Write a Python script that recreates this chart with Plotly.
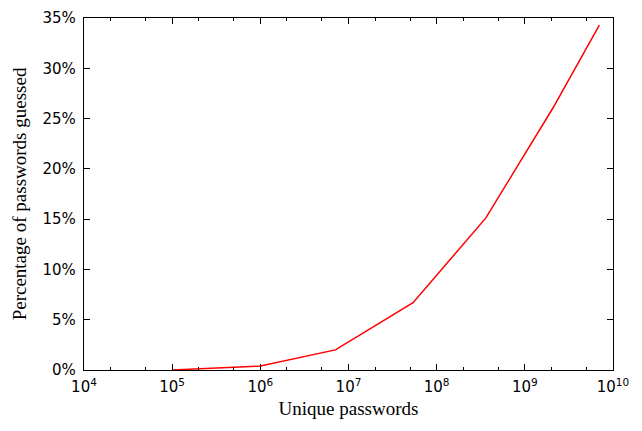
import plotly.graph_objects as go

unique_passwords = [1e5, 1e6, 7.1e6, 5.4e7, 3.6e8, 2.1e9, 7.0e9]
pct_guessed = [0.0, 0.4, 2.0, 6.7, 15.1, 26.1, 34.3]

x_tickvals = [1e4, 1e5, 1e6, 1e7, 1e8, 1e9, 1e10]
x_ticktext = ["10<sup>4</sup>", "10<sup>5</sup>", "10<sup>6</sup>", "10<sup>7</sup>",
              "10<sup>8</sup>", "10<sup>9</sup>", "10<sup>10</sup>"]
y_tickvals = [0, 5, 10, 15, 20, 25, 30, 35]
y_ticktext = [f"{v}%" for v in y_tickvals]

fig = go.Figure()

fig.add_trace(
    go.Scatter(
        x=unique_passwords,
        y=pct_guessed,
        mode="lines",
        line=dict(color="red", width=1.5),
        showlegend=False,
    )
)

axis_common = dict(
    showline=True,
    linecolor="black",
    linewidth=1.3,
    mirror="allticks",
    ticks="inside",
    ticklen=6,
    tickcolor="black",
    showgrid=False,
    zeroline=False,
    automargin=False,
    tickfont=dict(family="DejaVu Sans", size=15, color="black"),
)

fig.update_layout(
    width=642,
    height=431,
    margin=dict(l=84, r=29, t=18, b=61),
    paper_bgcolor="white",
    plot_bgcolor="white",
    xaxis=dict(
        type="log",
        range=[4, 10],
        tickvals=x_tickvals,
        ticktext=x_ticktext,
        ticklabelstandoff=3,
        minor=dict(ticks="inside", ticklen=3, tickcolor="black", showgrid=False),
        title=dict(text="Unique passwords",
                   font=dict(family="Liberation Serif", size=19, color="black"),
                   standoff=6),
        **axis_common,
    ),
    yaxis=dict(
        range=[0, 35],
        tickvals=y_tickvals,
        ticktext=y_ticktext,
        ticklabelstandoff=4,
        title=dict(text="Percentage of passwords guessed",
                   font=dict(family="Liberation Serif", size=19, color="black"),
                   standoff=10),
        **axis_common,
    ),
)

# page body has a default 8px margin; drop it so the figure sits at the corner
fig.write_html(
    "out.html",
    config={"displayModeBar": False},
    post_script="document.body.style.margin='0';",
)
